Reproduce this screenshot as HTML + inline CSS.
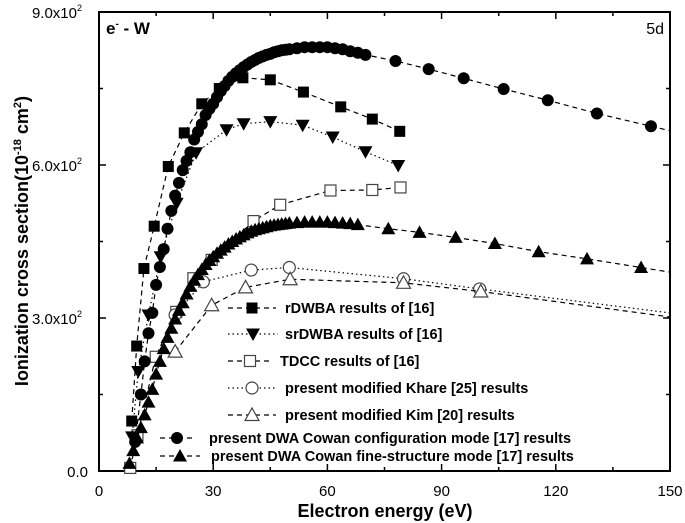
<!DOCTYPE html>
<html><head><meta charset="utf-8"><style>
body{margin:0;background:#fff;}
svg{display:block;font-family:"Liberation Sans",Arial,sans-serif;}
</style></head><body>
<svg id="chart" width="685" height="523" viewBox="0 0 685 523">
<g id="axes"></g>
<g id="series"></g>
<g id="legend"></g>
<text x="106" y="34" font-size="17" font-weight="bold">e<tspan dy="-7" font-size="10">-</tspan><tspan dy="7"> - W</tspan></text>
<text x="664" y="34" font-size="16" text-anchor="end">5d</text>
<text x="385" y="517" font-size="18" font-weight="bold" text-anchor="middle">Electron energy (eV)</text>
<text transform="translate(28,241) rotate(-90)" font-size="18" font-weight="bold" text-anchor="middle">Ionization cross section(10<tspan dy="-7" font-size="11">-18</tspan><tspan dy="7"> cm</tspan><tspan dy="-7" font-size="11">2</tspan><tspan dy="7">)</tspan></text>
</svg>
<script>
const xTicks=[0,30,60,90,120,150];
const yTicks=[0,300,600,900];
const yTickLabels=["0.0","3.0x10","6.0x10","9.0x10"];
const rdwbaE=[8.6,9.9,11.8,14.5,18.2,22.4,27,31.6,37.8,45,53.7,63.5,71.8,79];
const rdwbaV=[98,245,397,480,597,663,720,750,771,767,743,714,690,666];
const srdwbaE=[8.7,10.3,13,16.2,20.4,25.5,33.5,38,45,53.5,61.4,70,78.6];
const srdwbaV=[67,195,306,420,525,624,669,681,685,678,655,626,599];
const tdccE=[8.2,10.1,14.9,20.3,24.8,29.6,40.6,47.6,60.8,71.8,79.2];
const tdccV=[6,70,224,312,378,414,490,522,550,551,556];
const khareE=[20,27.4,40,50,80,100,150];
const khareV=[306,371,394,399,377,357,310];
const kimE=[20,29.6,38.5,50.2,80,100.3,150];
const kimV=[234,325,360,376,369,352,302];
const configE=[9.5,11,12,13,14,15,16,17,18,19,20,21,22,23,24,25,26,27,28,29,30,31,32,33,34,35,36,37,38,39,40,41,42,43,44,45,46,47,48,49,50,52,54,56,58,60,62,64,66,68,70,77.9,86.6,95.8,106.3,117.9,130.8,145];
const configV=[57,150,215,270,310,365,400,435,475,510,540,565,590,608,625,650,665,680,698,710,720,733,745,755,765,773,780,786,792,797,802,806,810,813,816,818,821,823,825,826,827,829,831,831,831,831,829,827,823,820,816,804,788,770,749,727,701,676];
const fineE=[8,9,10,11,12,13,14,15,16,17,18,19,20,21,22,23,24,25,26,27,28,29,30,31,32,33,34,35,36,37,38,39,40,41,42,43,44,45,46,47,48,49,50,52,54,56,58,60,62,64,66,68,76,84.2,93.7,104,115.5,128.2,142.4];
const fineV=[15,40,65,85,110,135,160,190,215,240,262,280,298,315,330,347,362,374,385,395,405,413,420,427,433,439,445,450,455,459,463,467,470,473,475,477,479,481,482,483,484,485,486,487,488,488,488,488,487,486,485,483,475,468,458,446,430,416,399];

const NS="http://www.w3.org/2000/svg";
const X0=99,X1=670,Y0=471,Y1=12;
const xs=e=>X0+(e/150)*(X1-X0);
const ys=v=>Y0-(v/900)*(Y0-Y1);
function mk(tag,attrs,parent){const el=document.createElementNS(NS,tag);for(const k in attrs)el.setAttribute(k,attrs[k]);parent.appendChild(el);return el;}
const axes=document.getElementById('axes');
const ser=document.getElementById('series');
const leg=document.getElementById('legend');

let frame=mk('rect',{x:X0,y:Y1,width:X1-X0,height:Y0-Y1,fill:'none',stroke:'#000','stroke-width':2},axes);


for(let e=0;e<=150;e+=15){
  const big=e%30===0;const L=big?7:4;
  let t=mk('line',{x1:xs(e),x2:xs(e),y1:Y0,y2:Y0-L,stroke:'#000','stroke-width':1.5},axes);
  
  
  let t2=mk('line',{x1:xs(e),x2:xs(e),y1:Y1,y2:Y1+L,stroke:'#000','stroke-width':1.5},axes);
  
  
}
for(let v=0;v<=900;v+=150){
  const big=v%300===0;const L=big?7:4;
  let t=mk('line',{x1:X0,x2:X0+L,y1:ys(v),y2:ys(v),stroke:'#000','stroke-width':1.5},axes);
  
  
  let t2=mk('line',{x1:X1,x2:X1-L,y1:ys(v),y2:ys(v),stroke:'#000','stroke-width':1.5},axes);
  
  
}
xTicks.forEach(e=>{
  let t=mk('text',{x:xs(e),y:496,'font-size':15,'text-anchor':'middle'},axes);
  t.textContent=e;
  
  
});
yTicks.forEach((v,i)=>{
  let t=mk('text',{x:i===0?88:82,y:ys(v)+6,'font-size':15,'text-anchor':'end'},axes);
  t.textContent=yTickLabels[i];
  if(i>0){let s=mk('tspan',{dy:-7,'font-size':9},t);s.textContent='2';}
  
  
});

function marker(type,cx,cy,parent,s){
  s=s||6;let el;
  if(type==='sq'||type==='osq') el=mk('rect',{x:cx-s+0.5,y:cy-s+0.5,width:2*s-1,height:2*s-1},parent);
  else if(type==='ci'||type==='oci') el=mk('circle',{cx:cx,cy:cy,r:s},parent);
  else if(type==='tri'||type==='otri') el=mk('polygon',{points:`${cx},${cy-s-1} ${cx-s-1},${cy+s-0.5} ${cx+s+1},${cy+s-0.5}`},parent);
  else el=mk('polygon',{points:`${cx},${cy+s+1} ${cx-s-1},${cy-s+0.5} ${cx+s+1},${cy-s+0.5}`},parent);
  if(type[0]==='o'){el.setAttribute('fill','#fff');el.setAttribute('stroke','#444');el.setAttribute('stroke-width',1.2);}
  else el.setAttribute('fill','#000');
  return el;
}
function series(name,E,V,type,dash,extend){
  const g=mk('g',{},ser);
  
  
  let pts=E.map((e,i)=>[xs(e),ys(V[i])]);
  if(extend){const n=pts.length;const [a,b]=[pts[n-2],pts[n-1]];const k=(b[1]-a[1])/(b[0]-a[0]);pts.push([X1,b[1]+k*(X1-b[0])]);}
  let pl=mk('polyline',{points:pts.map(p=>p.join(',')).join(' '),fill:'none',stroke:'#000','stroke-width':1.2,'stroke-dasharray':dash},g);
  
  
  const mg=mk('g',{},g);
  E.forEach((e,i)=>{
    if(e>=150)return;
    let m=marker(type,xs(e),ys(V[i]),mg);
    
    
  });
}
series('tdcc-series',tdccE,tdccV,'osq','5,4',false);
series('khare-series',khareE,khareV,'oci','1.5,3',false);
series('kim-series',kimE,kimV,'otri','5,4',false);
series('fine-structure-series',fineE,fineV,'tri','5,4',true);
series('config-series',configE,configV,'ci','5,4',true);
series('rdwba-series',rdwbaE,rdwbaV,'sq','5,4',false);
series('srdwba-series',srdwbaE,srdwbaV,'inv','1.5,3',false);

const legTexts=["rDWBA results of [16]","srDWBA results of [16]","TDCC results of [16]","present modified Khare [25] results","present modified Kim [20] results","present DWA Cowan configuration mode [17] results","present DWA Cowan fine-structure mode [17] results"];
const legTypes=['sq','inv','osq','oci','otri','ci','tri'];
const legDash=['5,4','1.5,3','5,4','1.5,3','5,4','5,4','5,4'];
const legY=[308,334,361,388,415,438,456];
const legX=[[228,252,285],[228,253,285],[228,250,280],[228,252,285],[228,252,285],[160,177,209],[160,180,211]];
legTexts.forEach((t,i)=>{
  const g=mk('g',{},leg);
  
  
  const [x1,xm,xt]=legX[i];
  mk('line',{x1:x1,x2:xm+(xm-x1),y1:legY[i],y2:legY[i],stroke:'#000','stroke-width':1.2,'stroke-dasharray':legDash[i]},g);
  marker(legTypes[i],xm,legY[i],g);
  const tx=mk('text',{x:xt,y:legY[i]+5,'font-size':14.5,'font-weight':'bold'},g);
  tx.textContent=t;
});
</script>
</body></html>
